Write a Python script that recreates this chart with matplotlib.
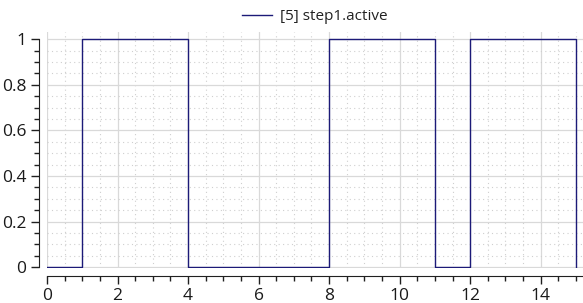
import matplotlib
matplotlib.use("Agg")
import matplotlib.pyplot as plt
from matplotlib.ticker import MultipleLocator

# data
time = [0, 1, 4, 8, 11, 12, 15, 15]
active = [0, 1, 0, 1, 0, 1, 1, 0]
series_label = "[5] step1.active"
x_major = [0, 2, 4, 6, 8, 10, 12, 14]
y_major = [0, 0.2, 0.4, 0.6, 0.8, 1]
y_labels = ["0", "0.2", "0.4", "0.6", "0.8", "1"]

plt.rcParams['font.family'] = ['Open Sans', 'DejaVu Sans']

fig = plt.figure(figsize=(5.83, 3.03), dpi=100)
W, H = 583, 303
left, right, top, bottom = 47, 583, 32, 268
ax = fig.add_axes([left / W, 1 - bottom / H, (right - left) / W, (bottom - top) / H])

ax.plot(time, active, drawstyle='steps-post', color='#1c1a78', lw=1.0, label=series_label)

ax.set_xlim(0, 15.2)
ax.set_ylim(-0.004, 1.032)

ax.set_xticks(x_major)
ax.set_xticklabels([str(v) for v in x_major])
ax.set_yticks(y_major)
ax.set_yticklabels(y_labels)
ax.xaxis.set_minor_locator(MultipleLocator(0.5))
ax.yaxis.set_minor_locator(MultipleLocator(0.05))

ax.grid(which='major', color='#d9d9d9', lw=0.9, ls='-')
ax.grid(which='minor', color='#cfcfcf', lw=0.8, ls=(0, (1, 3)))
ax.set_axisbelow(True)

for s in ['top', 'right']:
    ax.spines[s].set_visible(False)
ax.spines['left'].set_position(('outward', 6))
ax.spines['bottom'].set_position(('outward', 6))
ax.spines['left'].set_bounds(0, 1)
ax.spines['bottom'].set_bounds(0, 15.2)
ax.spines['left'].set_color('#202020')
ax.spines['bottom'].set_color('#202020')

ax.tick_params(axis='both', which='major', direction='out', length=6, width=1,
               color='#202020', labelsize=12.5, labelcolor='#1a1a1a')
ax.tick_params(axis='both', which='minor', direction='out', length=3.5, width=1, color='#202020')
ax.tick_params(axis='x', which='major', pad=2.5)
ax.tick_params(axis='y', which='major', pad=3)

leg = ax.legend(loc='lower center', bbox_to_anchor=(0.5, 1.0), frameon=False,
                fontsize=11, handlelength=1.95, handletextpad=0.5, borderaxespad=0.1)
for t in leg.get_texts():
    t.set_color('#222222')

fig.savefig('out.png', dpi=100)
